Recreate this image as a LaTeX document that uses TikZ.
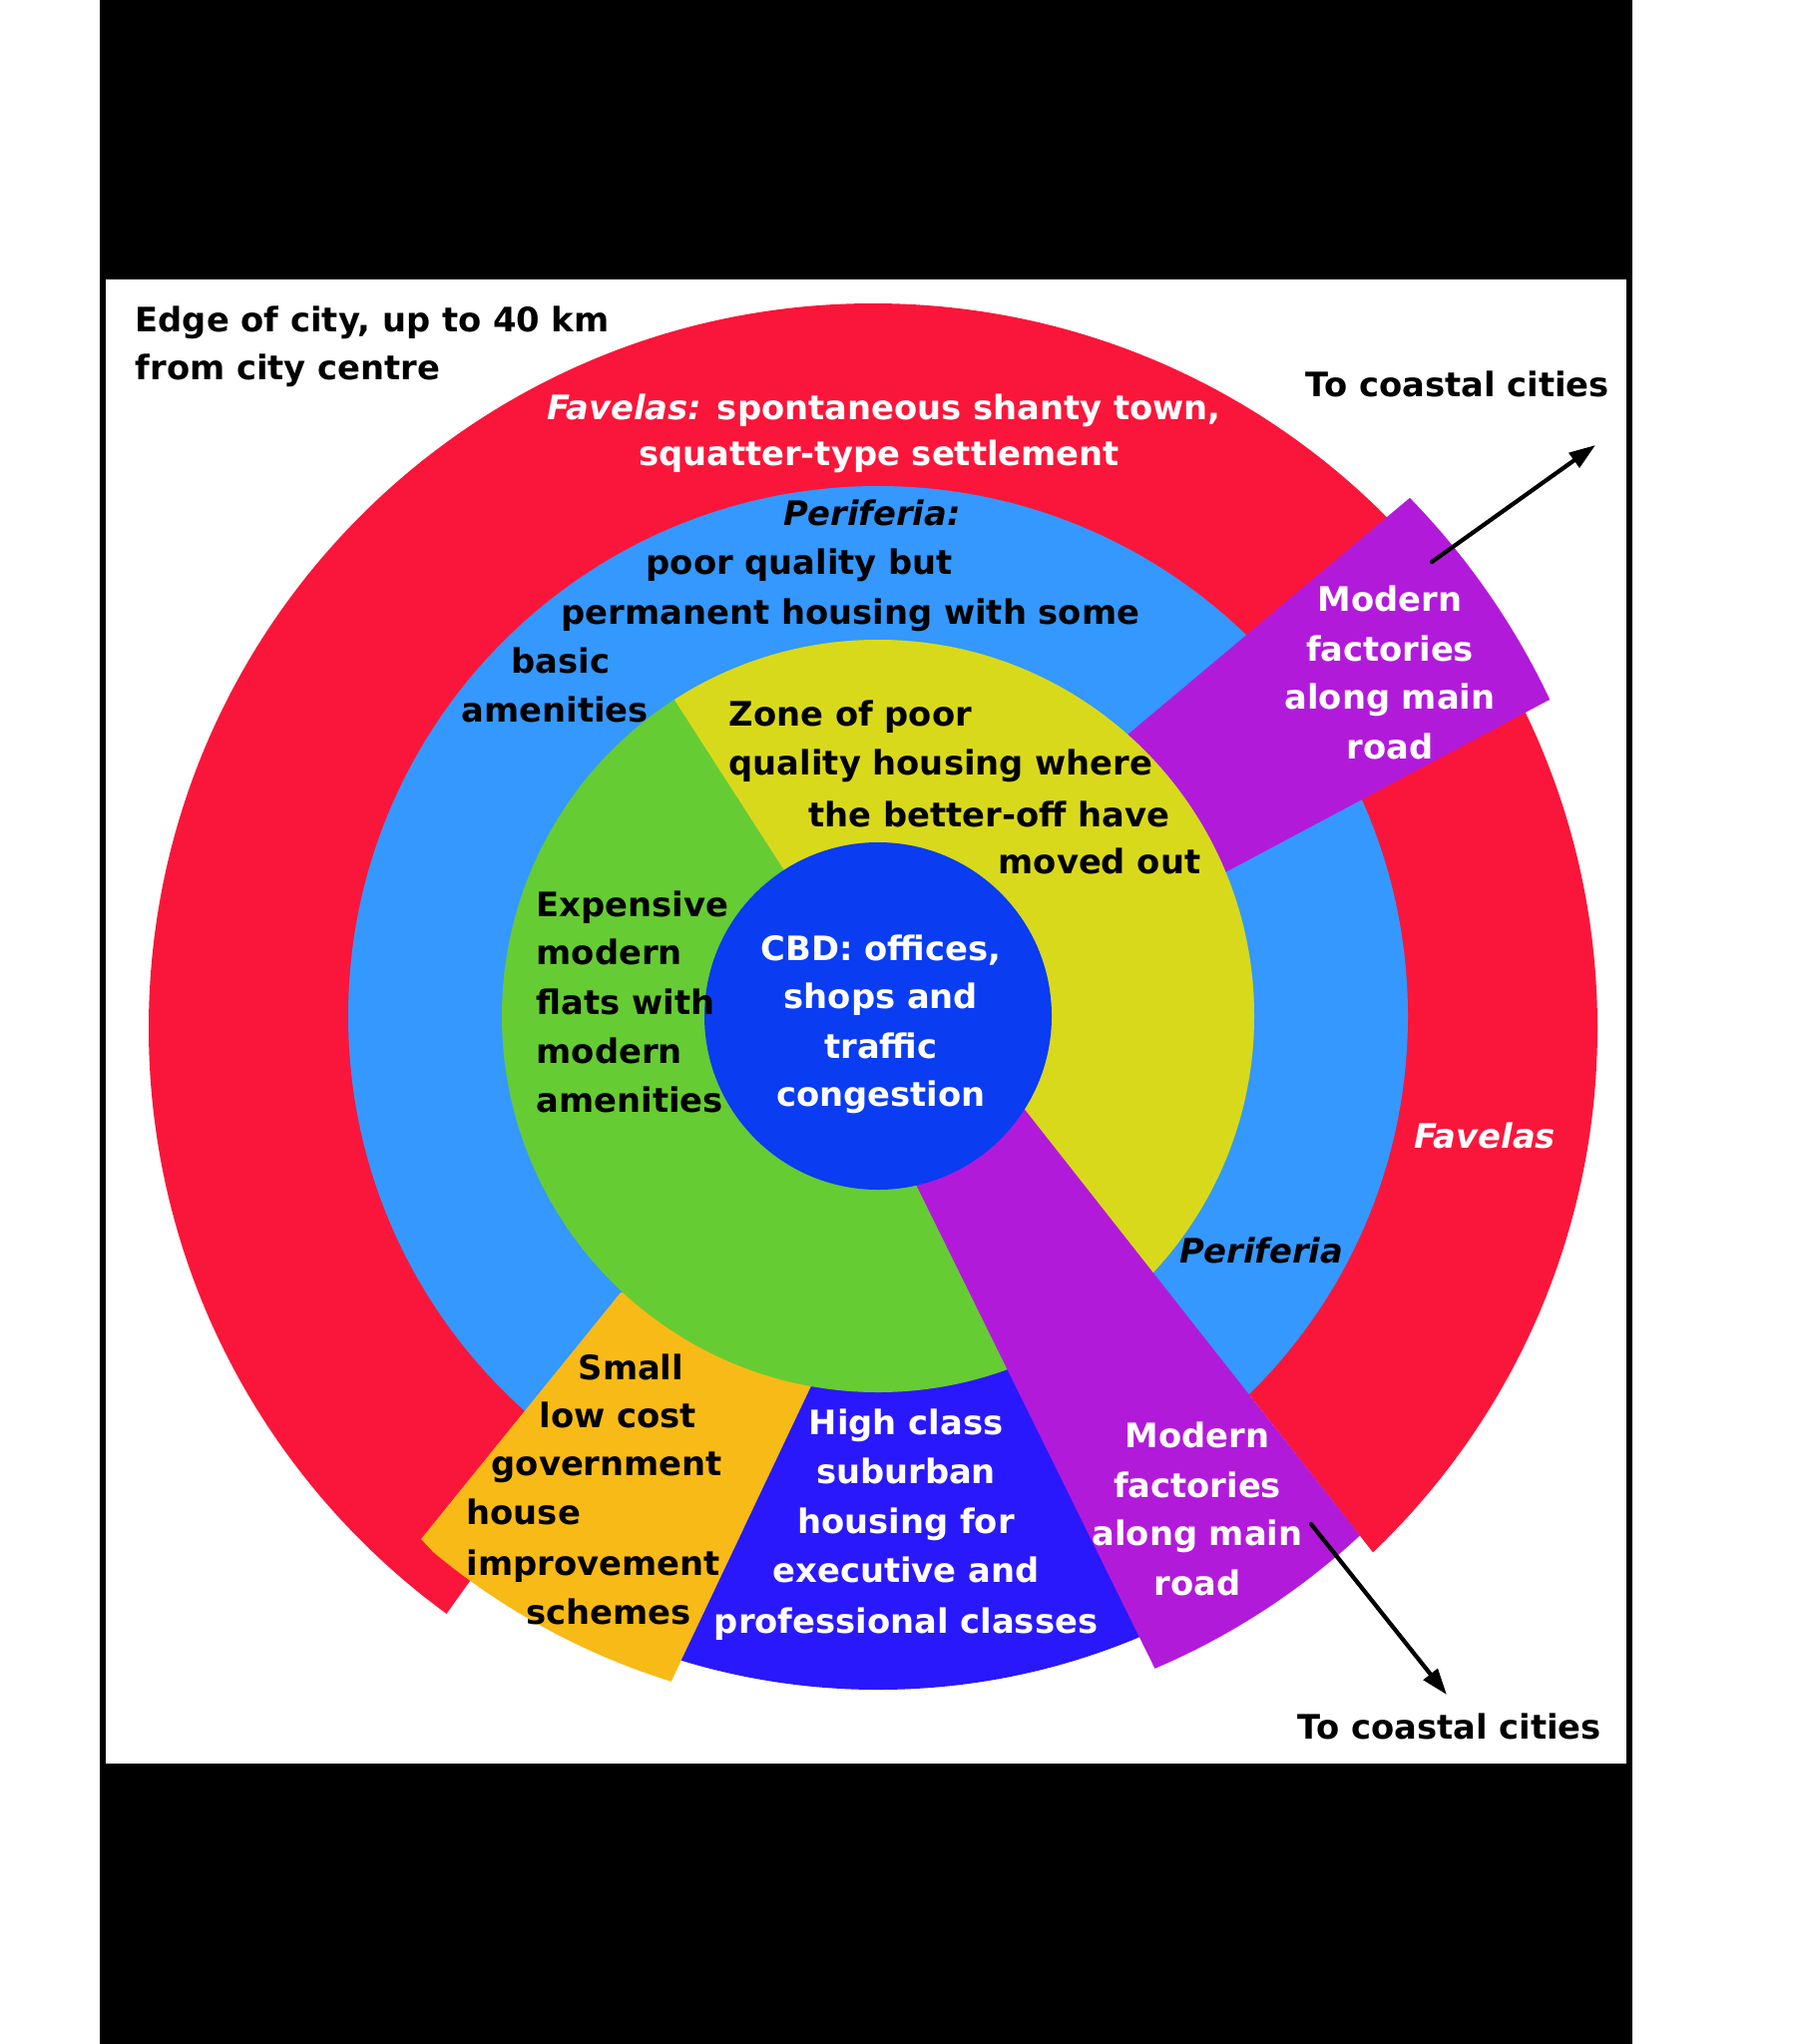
\documentclass[tikz,border=0pt]{standalone}
\usepackage{fontspec}
\setmainfont{DejaVu Sans}
\usetikzlibrary{arrows.meta}

\definecolor{favela}{RGB}{250,22,58}
\definecolor{periferia}{RGB}{52,152,255}
\definecolor{flats}{RGB}{102,204,51}
\definecolor{poorzone}{RGB}{217,217,28}
\definecolor{cbd}{RGB}{10,60,242}
\definecolor{highclass}{RGB}{42,24,252}
\definecolor{lowcost}{RGB}{248,186,22}
\definecolor{factory}{RGB}{178,26,218}

\tikzset{
  lbl/.style={inner sep=0pt, font=\fontsize{9.6}{13}\selectfont\bfseries},
  road/.style={line width=1.2pt, line cap=round, -{Triangle[length=7.5pt,width=5pt]}}
}

\begin{document}
\begin{tikzpicture}[x=0.01cm,y=-0.01cm]
\fill[black] (0,0) rectangle (1536,2048);
\fill[white] (6,280) rectangle (1530,1767);
\coordinate (c) at (780,1018);

% favelas, open at the bottom
\begin{scope}
\clip (813,966) -- (193,1833) -- (-100,1833) -- (-100,200) -- (1700,200) -- (1700,1773) -- (1447,1773) -- cycle;
\fill[favela] (775,1030) circle (726);
\end{scope}
\fill[periferia] (c) circle (531);

% factories, north-east road
\begin{scope}
\clip (c) circle (744);
\fill[factory] (979,779) -- (1395,430) -- (1545,652) -- (1068,906) -- cycle;
\end{scope}

% low cost housing
\begin{scope}
\clip (c) circle (698);
\fill[lowcost] (522,1295) -- (322,1542) -- (367,1590) -- (502,1734) -- (537,1760) -- (740,1332) -- cycle;
\end{scope}

% high class suburbs
\begin{scope}
\clip (c) circle (675);
\fill[highclass] (740,1332) -- (537,1760) -- (1150,1700) -- (860,1200) -- cycle;
\end{scope}

% flats and the poor zone
\fill[flats] (c) circle (377);
\begin{scope}
\clip (c) circle (377);
\fill[poorzone] (c) -- (496,577) -- (1400,577) -- (1400,1500) -- (1114,1500) -- cycle;
\end{scope}

% factories, south-east road
\begin{scope}
\clip (c) circle (710);
\fill[factory] (790,1130) -- (1104,1766) -- (1428,1748) -- (880,1052) -- cycle;
\end{scope}

\fill[cbd] (c) circle (174);

% labels
\node[lbl, anchor=base west] (edge1) at (35,332) {Edge of city, up to 40 km};
\node[lbl, anchor=base west] (edge2) at (35,380) {from city centre};

\node[lbl, anchor=base, text=white] (fav1) at (786,420) {\textit{Favelas:} spontaneous shanty town,};
\node[lbl, anchor=base, text=white] (fav2) at (781,466) {squatter-type settlement};

\foreach \t/\x/\y [count=\i] in {{\textit{Periferia:}}/685/526, poor quality but/547/575, permanent housing with some/462/625, basic/412/674, amenities/362/723}
  \node[lbl, anchor=base west] (peri\i) at (\x,\y) {\t};

\foreach \t/\x/\y [count=\i] in {Zone of poor/630/727, quality housing where/630/776, the better-off have/710/828, moved out/900/875}
  \node[lbl, anchor=base west] (zone\i) at (\x,\y) {\t};

\foreach \t/\y [count=\i] in {Expensive/918, modern/966, flats with/1016, modern/1065, amenities/1114}
  \node[lbl, anchor=base west] (flat\i) at (437,\y) {\t};

\foreach \t/\y [count=\i] in {{CBD: offices,}/962, shops and/1010, traffic/1060, congestion/1108}
  \node[lbl, anchor=base, text=white] (cbd\i) at (783,\y) {\t};

\foreach \t/\y [count=\i] in {Modern/612, factories/662, along main/710, road/760}
  \node[lbl, anchor=base, text=white] (facN\i) at (1293,\y) {\t};
\foreach \t/\y [count=\i] in {Modern/1450, factories/1500, along main/1548, road/1598}
  \node[lbl, anchor=base, text=white] (facS\i) at (1100,\y) {\t};

\foreach \t/\x/\y [count=\i] in {Small/479/1382, low cost/440/1430, government/392/1478, house/367/1527, improvement/367/1578, schemes/427/1627}
  \node[lbl, anchor=base west] (low\i) at (\x,\y) {\t};

\foreach \t/\y [count=\i] in {High class/1437, suburban/1486, housing for/1536, executive and/1585, professional classes/1636}
  \node[lbl, anchor=base, text=white] (high\i) at (808,\y) {\t};

\node[lbl, anchor=base west, text=white] (favE) at (1317,1150) {\textit{Favelas}};
\node[lbl, anchor=base west] (periE) at (1082,1265) {\textit{Periferia}};
\node[lbl, anchor=base west] (coastN) at (1208,397) {To coastal cities};
\node[lbl, anchor=base west] (coastS) at (1200,1742) {To coastal cities};

% roads to the coast
\coordinate (northtail) at (1335,563);
\coordinate (northhead) at (1499,446);
\coordinate (southtail) at (1214,1527);
\coordinate (southhead) at (1350,1698);
\draw[road] (northtail) -- (northhead);
\draw[road] (southtail) -- (southhead);
\end{tikzpicture}
\end{document}
